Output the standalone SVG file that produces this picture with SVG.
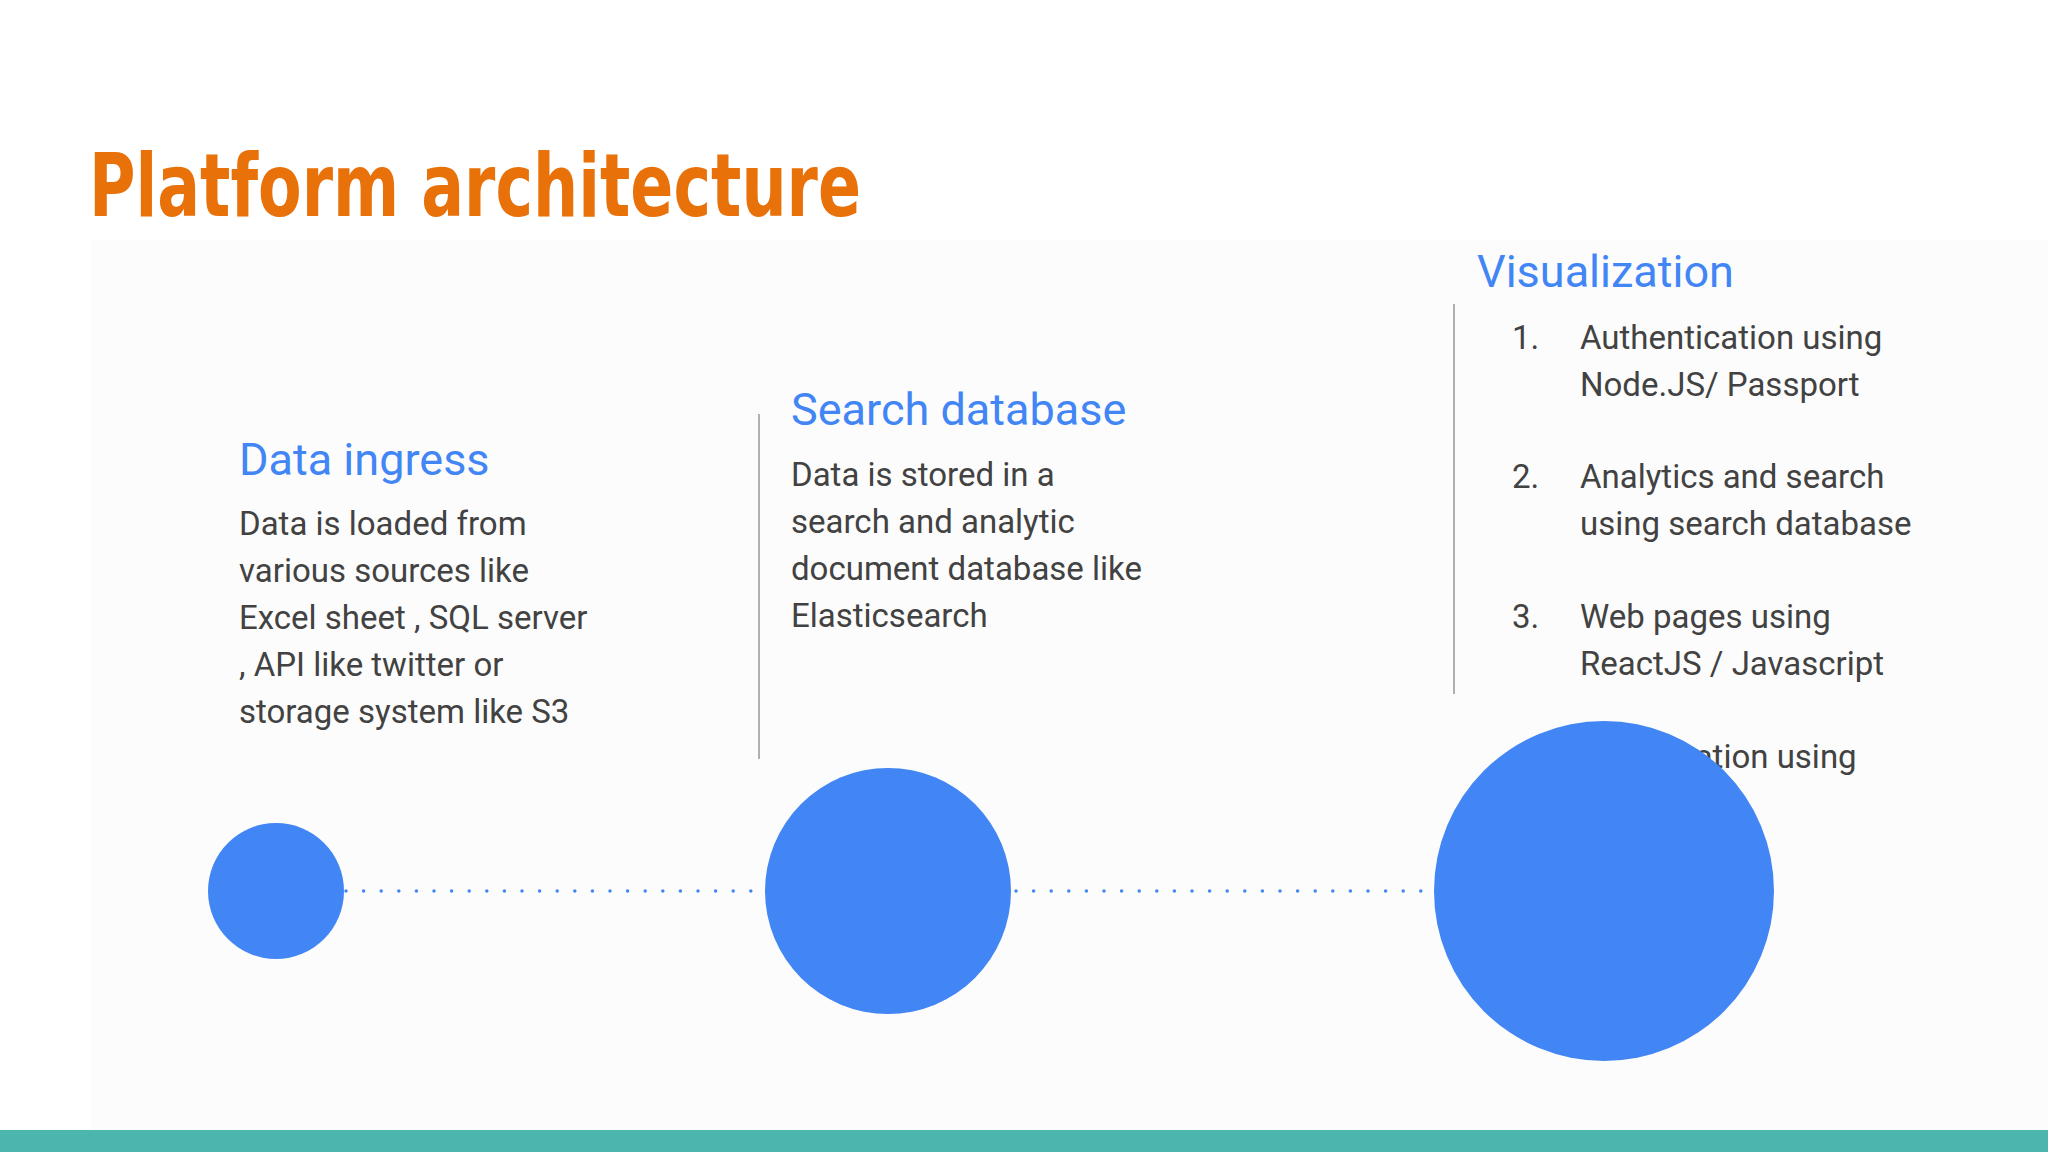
<svg xmlns="http://www.w3.org/2000/svg" width="2048" height="1152" viewBox="0 0 2048 1152">
<style>
.h{font-family:Roboto,"Liberation Sans",sans-serif;font-size:45px;fill:#4285f4}
.b{font-family:Roboto,"Liberation Sans",sans-serif;font-size:33px;fill:#424242}
.c{fill:#4285f4}
.d{stroke:#4285f4;stroke-width:3.5;stroke-linecap:round;stroke-dasharray:0 17.6;fill:none}
.v{stroke:#b0b0b0;stroke-width:2}
</style>
<rect width="2048" height="1152" fill="#ffffff"/>
<rect x="91" y="240" width="1957" height="890" fill="#fcfcfc"/>
<rect x="0" y="1130" width="2048" height="22" fill="#4db6ac"/>
<text x="89" y="216" font-family="'DejaVu Sans Condensed','DejaVu Sans',sans-serif" font-weight="bold" font-size="88" fill="#e8710a" textLength="772" lengthAdjust="spacingAndGlyphs">Platform architecture</text>
<g id="connectors">
<line class="d" x1="346" y1="891" x2="758" y2="891"/>
<line class="d" x1="1016" y1="891" x2="1433" y2="891"/>
</g>
<g id="dividers">
<line class="v" x1="759" y1="414" x2="759" y2="759"/>
<line class="v" x1="1454" y1="304" x2="1454" y2="694"/>
</g>
<g id="ingress">
<text class="h" x="239" y="475">Data ingress</text>
<text class="b" x="239" y="535">Data is loaded from</text>
<text class="b" x="239" y="582">various sources like</text>
<text class="b" x="239" y="629">Excel sheet , SQL server</text>
<text class="b" x="239" y="676">, API like twitter or</text>
<text class="b" x="239" y="723">storage system like S3</text>
</g>
<g id="search">
<text class="h" x="791" y="425">Search database</text>
<text class="b" x="791" y="486">Data is stored in a</text>
<text class="b" x="791" y="533">search and analytic</text>
<text class="b" x="791" y="580">document database like</text>
<text class="b" x="791" y="627">Elasticsearch</text>
</g>
<g id="visualization">
<text class="h" x="1477" y="287">Visualization</text>
<text class="b" x="1512" y="349">1.</text>
<text class="b" x="1580" y="349">Authentication using</text>
<text class="b" x="1580" y="396">Node.JS/ Passport</text>
<text class="b" x="1512" y="488">2.</text>
<text class="b" x="1580" y="488">Analytics and search</text>
<text class="b" x="1580" y="535">using search database</text>
<text class="b" x="1512" y="628">3.</text>
<text class="b" x="1580" y="628">Web pages using</text>
<text class="b" x="1580" y="675">ReactJS / Javascript</text>
<text class="b" x="1512" y="768">4.</text>
<text class="b" x="1580" y="768">Visualization using</text>
<text class="b" x="1580" y="815">HighCharts</text>
</g>
<g id="node1"><circle class="c" cx="276" cy="891" r="68"/></g>
<g id="node2"><circle class="c" cx="888" cy="891" r="123"/></g>
<g id="node3"><circle class="c" cx="1604" cy="891" r="170"/></g>
</svg>
